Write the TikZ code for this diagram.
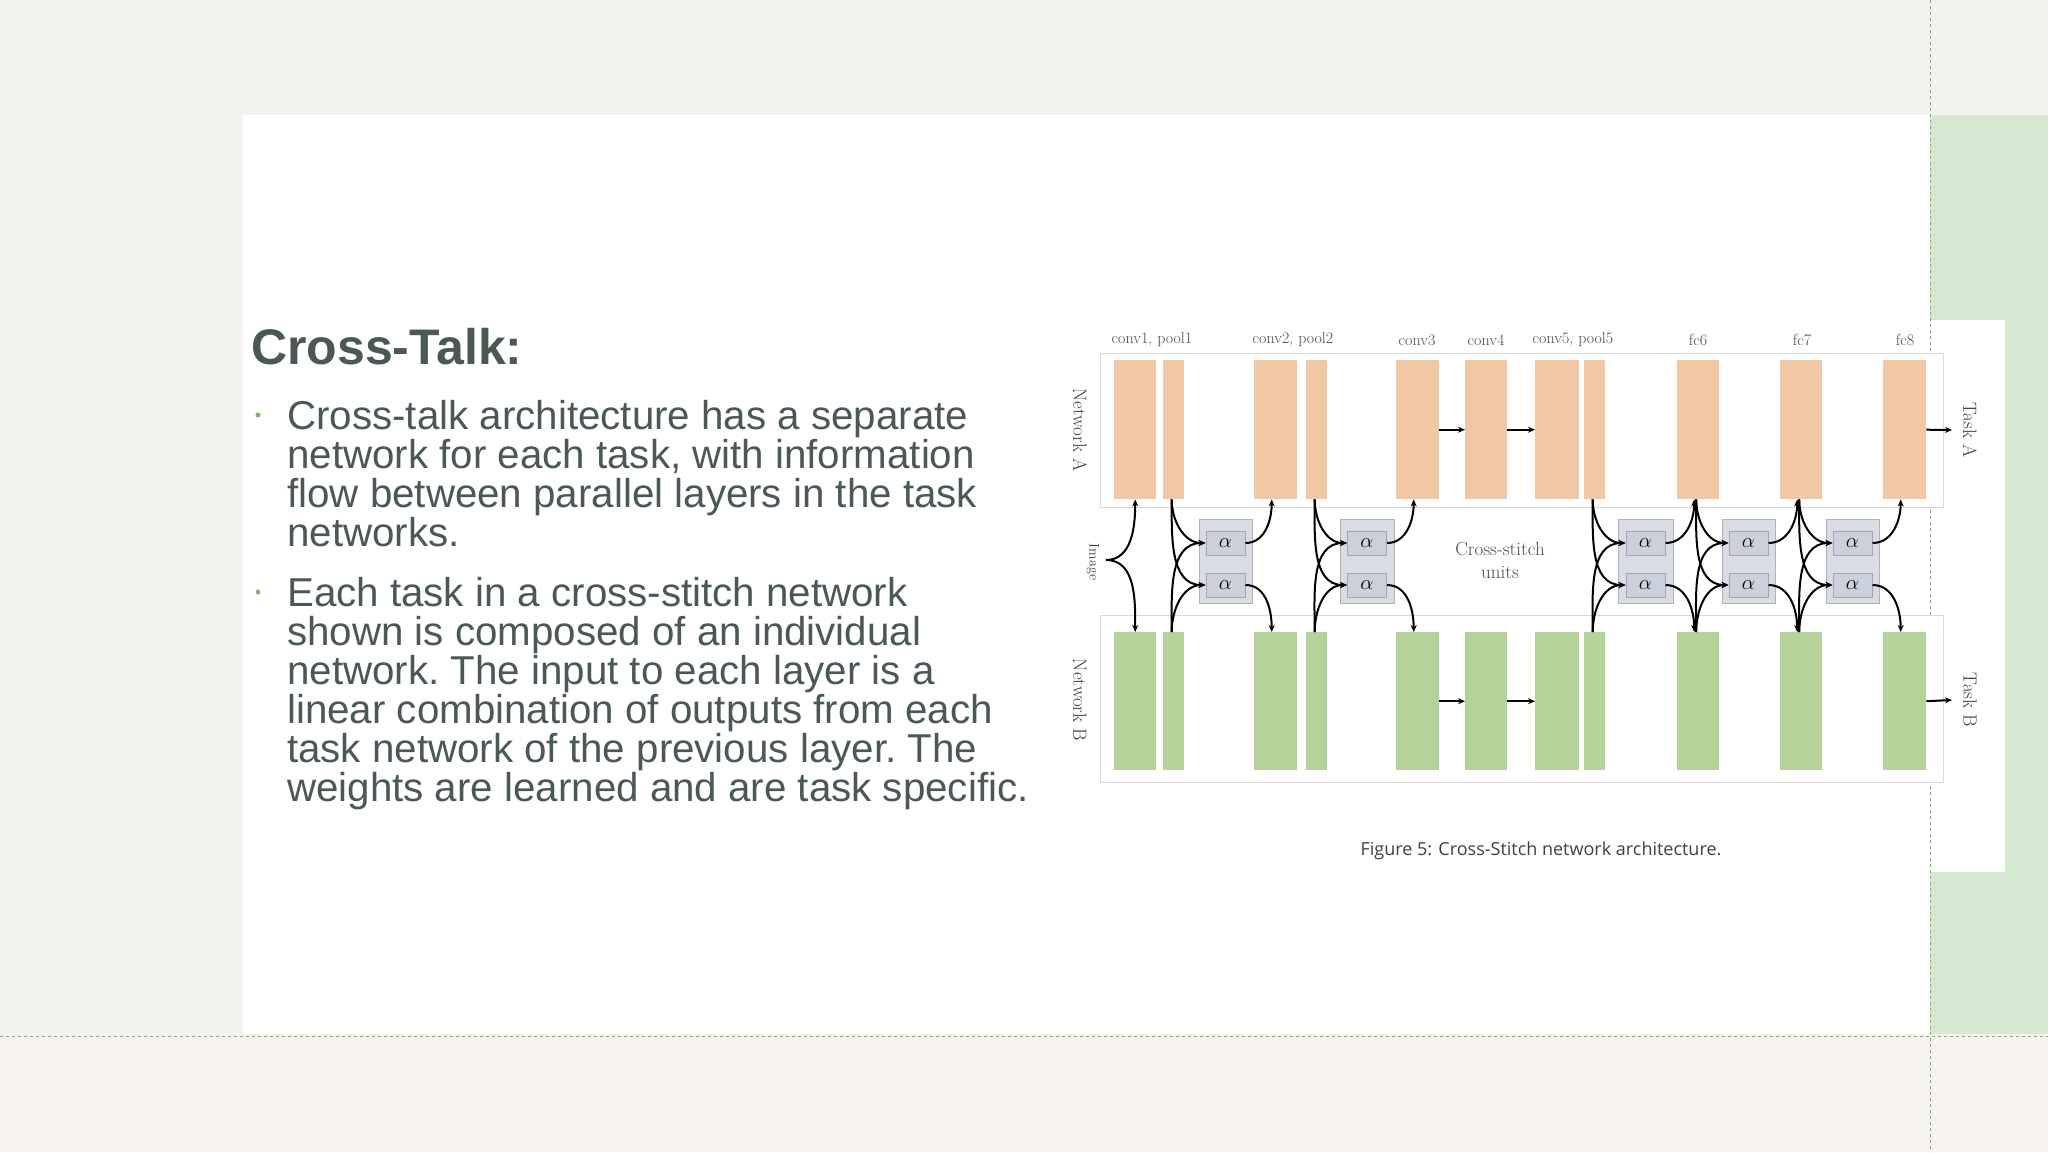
\documentclass[tikz,border=0pt]{standalone}
\usepackage{fontspec}
\setsansfont{Liberation Sans}
\newfontfamily\capfont{Open Sans}
\usetikzlibrary{arrows.meta}
\definecolor{pagebg}{HTML}{F3F3EE}
\definecolor{lowbg}{HTML}{F5F2EF}
\definecolor{strip}{HTML}{D5E8D0}
\definecolor{dashgreen}{HTML}{7DB46C}
\definecolor{txt}{HTML}{4A5A50}
\definecolor{orA}{HTML}{F0C8A6}
\definecolor{grB}{HTML}{B5D29A}
\definecolor{uout}{HTML}{D8DCE4}
\definecolor{uin}{HTML}{CAD1DD}
\tikzset{
 barA/.style={fill=orA,draw=none,anchor=north west,inner sep=0,minimum height=139pt},
 barB/.style={fill=grB,draw=none,anchor=north west,inner sep=0,minimum height=138pt},
 panel/.style={draw=black!15,line width=1.2pt,fill=white,anchor=north west,inner sep=0},
 lbl/.style={font=\fontsize{16}{18}\selectfont,text=black!70},
 rlbl/.style={font=\fontsize{19}{20}\selectfont,text=black!75,rotate=-90},
 ubox/.style={fill=uout,draw=black!30,line width=1pt,anchor=north west,inner sep=0,minimum height=84pt},
 abox/.style={fill=uin,draw=black!35,line width=1pt,inner sep=0,minimum width=39pt,minimum height=24pt,font=\fontsize{22}{22}\selectfont},
 con/.style={line width=2pt,-{Stealth[length=7pt,width=6pt]}},
 bul/.style={font=\fontsize{40.3}{39}\selectfont\sffamily\frenchspacing,text=txt,anchor=north west,align=left,inner sep=0}
}
\newcommand{\csunit}[3]{%
 \node[ubox,minimum width=#3-#2] (U#1) at (#2,519) {};
 \node[abox] (U#1t) at ({(#2+#3)/2},543) {$\alpha$};
 \node[abox] (U#1b) at ({(#2+#3)/2},585) {$\alpha$};
}
\begin{document}
\begin{tikzpicture}[x=1pt,y=-1pt]
\useasboundingbox (0,0) rectangle (2048,1152);
\fill[pagebg] (0,0) rectangle (2048,1036);
\fill[lowbg] (0,1036) rectangle (2048,1152);
\fill[white] (243,115) rectangle (1930,1034);
\fill[strip] (1930,115) rectangle (2048,1034);
\fill[white] (1930,320) rectangle (2005,872);
\draw[dashgreen,dashed,line width=1pt] (1930,0) -- (1930,1152);
\draw[dashgreen,dashed,line width=1pt] (0,1036) -- (2048,1036);
% text
\node[anchor=base west,inner sep=0,font=\fontsize{50}{54}\selectfont\sffamily\bfseries,text=txt] (title) at (251,364) {Cross-Talk:};
\node[bul] (b1) at (287,400) {Cross-talk architecture has a separate\\network for each task, with information\\flow between parallel layers in the task\\networks.};
\node[bul] (b2) at (287,577) {Each task in a cross-stitch network\\shown is composed of an individual\\network. The input to each layer is a\\linear combination of outputs from each\\task network of the previous layer. The\\weights are learned and are task specific.};
\fill[dashgreen] (258,415) circle (2.5pt) (258,592) circle (2.5pt);
% panels
\node[panel,minimum width=843pt,minimum height=154pt] (PA) at (1100,353) {};
\node[panel,minimum width=843pt,minimum height=167pt] (PB) at (1100,615) {};
\foreach \n/\a/\b in {c1/1114/1156,p1/1163/1184,c2/1254/1297,p2/1306/1327,c3/1396/1439,c4/1465/1507,c5/1535/1579,p5/1584/1605,f6/1677/1719,f7/1780/1822,f8/1883/1926}{
 \node[barA,minimum width=\b-\a] (A\n) at (\a,360) {};
 \node[barB,minimum width=\b-\a] (B\n) at (\a,632) {};
}
% labels
\node[lbl] (l1) at (1152,340) {conv1, pool1};
\node[lbl] (l2) at (1293,340) {conv2, pool2};
\node[lbl] (l3) at (1417,340) {conv3};
\node[lbl] (l4) at (1486,340) {conv4};
\node[lbl] (l5) at (1573,340) {conv5, pool5};
\node[lbl] (l6) at (1698,340) {fc6};
\node[lbl] (l7) at (1802,340) {fc7};
\node[lbl] (l8) at (1905,340) {fc8};
\node[rlbl] (nA) at (1080,430) {Network A};
\node[rlbl] (nB) at (1080,700) {Network B};
\node[rlbl] (tA) at (1970,430) {Task A};
\node[rlbl] (tB) at (1970,700) {Task B};
\node[rlbl,font=\fontsize{14}{15}\selectfont] (imgl) at (1093,562) {Image};
\node[lbl,font=\fontsize{19}{23}\selectfont,align=center] (csl) at (1500,560) {Cross-stitch\\units};
\node[font=\capfont\fontsize{18}{20}\selectfont,text=black!75] (cap) at (1541,851) {Figure 5: Cross-Stitch network architecture.};
% units
\csunit{1}{1199}{1252}
\csunit{2}{1340}{1394}
\csunit{3}{1618}{1673}
\csunit{4}{1722}{1775}
\csunit{5}{1826}{1879}
% image
\coordinate (img) at (1106,560);
\draw[con] (img) to[out=0,in=-90] (Ac1.south);
\draw[con] (img) to[out=0,in=90] (Bc1.north);
% cross-stitch connections
\foreach \u/\s/\d in {1/p1/c2,2/p2/c3,3/p5/f6,4/f6/f7,5/f7/f8}{
 \draw[con] ([xshift=-2pt]A\s.south) to[out=-90,in=180] (U\u t.west);
 \draw[con] ([xshift=-2pt]A\s.south) to[out=-90,in=180] (U\u b.west);
 \draw[con] ([xshift=-2pt]B\s.north) to[out=90,in=180] (U\u t.west);
 \draw[con] ([xshift=-2pt]B\s.north) to[out=90,in=180] (U\u b.west);
 \draw[con] (U\u t.east) to[out=0,in=-90] ([xshift=-4pt]A\d.south);
 \draw[con] (U\u b.east) to[out=0,in=90] ([xshift=-4pt]B\d.north);
}
\draw[con] (Ac3) -- (Ac4);
\draw[con] (Ac4) -- (Ac5);
\draw[con] (Bc3) -- (Bc4);
\draw[con] (Bc4) -- (Bc5);
\coordinate (oA) at (1952,430);
\coordinate (oB) at (1952,700);
\draw[con] (Af8.east) -- (oA);
\draw[con] (Bf8.east) -- (oB);
\end{tikzpicture}
\end{document}
